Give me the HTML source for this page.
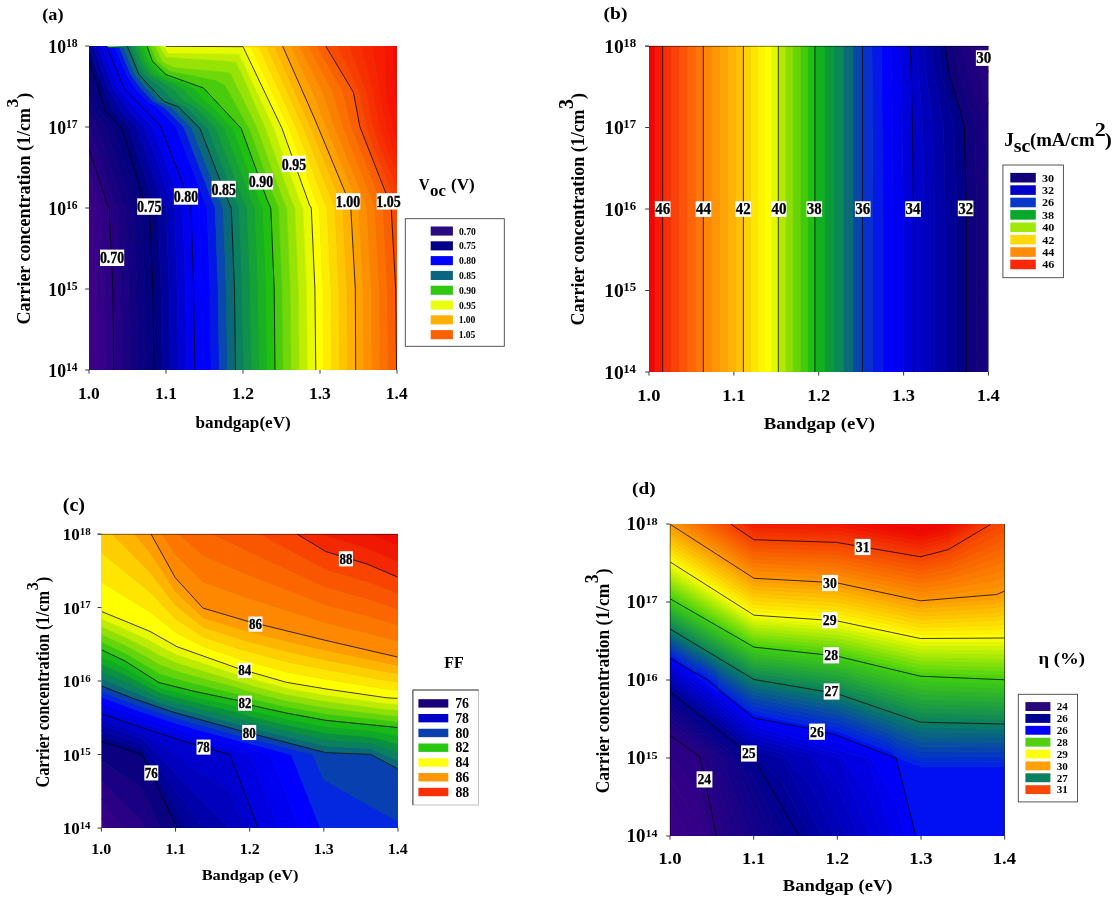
<!DOCTYPE html>
<html lang="en"><head><meta charset="utf-8"><title>Contour plots</title>
<style>html,body{margin:0;padding:0;background:#fff}body{width:1114px;height:898px;overflow:hidden}</style>
</head><body>
<svg width="1114" height="898" viewBox="0 0 1114 898" style="display:block;font-family:'Liberation Serif','Times New Roman',serif;font-weight:bold">
<rect width="1114" height="898" fill="#fff"/>
<clipPath id="clipa"><rect x="89" y="46" width="308" height="324"/></clipPath>
<g clip-path="url(#clipa)">
<rect x="89" y="46" width="308" height="324" fill="#20c010"/>
<path fill="#44008b" stroke="#44008b" stroke-width=".6" d="M89,307L89.7,370 89,370Z"/>
<path fill="#3e0089" stroke="#3e0089" stroke-width=".6" d="M89,198L91.4,205 93.2,208 96.8,289 97.7,370 89.7,370 89,307Z"/>
<path fill="#360087" stroke="#360087" stroke-width=".6" d="M89,174L99.4,205 101.2,208 104.8,289 105.7,370 97.7,370 96.8,289 93.2,208 91.4,205 89,197.7Z"/>
<path fill="#2e0085" stroke="#2e0085" stroke-width=".6" d="M89,149L107.4,205 109.2,208 112.8,289 113.7,370 105.7,370 104.8,289 101.2,208 99.4,205 89,173.3Z"/>
<path fill="#250083" stroke="#250083" stroke-width=".6" d="M89,126L90.3,129 113.4,200 115.4,205 117.3,208 120.8,289 121.8,370 113.7,370 112.8,289 109.2,208 107.4,205 89,149Z"/>
<path fill="#1c0082" stroke="#1c0082" stroke-width=".6" d="M89,113L98.3,129 121.1,200 123.4,205 125.4,208 128.8,289 129.8,370 121.8,370 120.8,289 117.3,208 115.4,205 113.4,200 90.3,129 89,125.9Z"/>
<path fill="#130081" stroke="#130081" stroke-width=".6" d="M89,96L93.6,111 106.2,129 128.7,200 133.4,208 136.9,289 137.9,370 129.8,370 128.8,289 125.4,208 123.4,205 121.1,200 98.3,129 89,112.9Z"/>
<path fill="#0a0080" stroke="#0a0080" stroke-width=".6" d="M89,78L97.2,103 99.3,111 114.1,129 136.4,200 141.5,208 144.9,289 145.9,370 137.9,370 136.9,289 133.4,208 128.7,200 106.2,129 93.6,111 89,95.8Z"/>
<path fill="#040080" stroke="#040080" stroke-width=".6" d="M89,60L102.7,102 105,111 121.4,128 122,129 144,200 149.6,208 152.9,289 154,370 145.9,370 144.9,289 141.5,208 136.4,200 114.1,129 99.3,111 97.2,103 89,77.9Z"/>
<path fill="#000080" stroke="#000080" stroke-width=".6" d="M89,47L103.7,89 110,103 113.2,111 127.7,126 129.9,129 152.9,200 157.9,208 161,289 162.2,370 154,370 152.9,289 149.6,208 144,200 122,129 121.4,128 105,111 102.7,102 89,60Z"/>
<path fill="#00009c" stroke="#00009c" stroke-width=".6" d="M89,46L93.3,46 108.9,89 121.4,111 135,125 137.9,129 161.7,200 166.2,208 169.2,289 170.4,370 162.2,370 161,289 157.9,208 152.9,200 129.9,129 127.7,126 113.2,111 110,103 103.7,89Z"/>
<path fill="#0000b8" stroke="#0000b8" stroke-width=".6" d="M93.3,46L97.7,46 114.1,89 129.6,111 143.2,125 145.3,128 165.3,184 170.6,200 174.4,208 177.3,289 178.5,370 170.4,370 169.2,289 166.2,208 161.7,200 137.9,129 135,125 121.4,111 108.9,89Z"/>
<path fill="#0000d4" stroke="#0000d4" stroke-width=".6" d="M97.7,46L102.1,46 119.3,89 137.8,111 152.3,126 153.7,129 174,184 179.4,200 182.7,208 185.5,289 186.7,370 178.5,370 177.3,289 174.4,208 170.6,200 165.3,184 145.3,128 143.2,125 129.6,111 114.1,89Z"/>
<path fill="#0000f0" stroke="#0000f0" stroke-width=".6" d="M102.1,46L106,46 106.9,47 124.5,89 160.5,126 182.8,184 191,208 193.6,289 194.9,370 186.7,370 185.5,289 182.7,208 179.4,200 174,184 153.3,128 151.5,125 137.8,111 119.3,89Z"/>
<path fill="#0000ff" stroke="#0000ff" stroke-width=".6" d="M106,46L107,46.8 111.1,47 122.3,74 130.1,89 141.7,101 149.4,107 167.9,126 169.4,129 190.5,184 199.1,208 201.8,289 203,370 194.9,370 193.6,289 191,208 182.8,184 160.5,126 124.5,89 106.9,47Z"/>
<path fill="#0000ff" stroke="#0000ff" stroke-width=".6" d="M106.3,46L108,46.9 115.2,47 126.4,74 135.7,89 147.2,101 156.7,107 174.5,125 176.6,128 198.3,184 207.1,208 210,289 211.1,370 203,370 201.8,289 199.1,208 190.5,184 169.4,129 167.9,126 149.4,107 141.7,101 130.1,89 122.3,74 111.1,47 107,46.8Z"/>
<path fill="#0318e5" stroke="#0318e5" stroke-width=".6" d="M106.5,46L108,46.8 119.3,47 130.6,74 141.3,89 152.6,101 164,107 181.8,125 184.3,128 215.2,208 218.1,289 219.3,370 211.1,370 210,289 207.1,208 198.3,184 176.6,128 174.5,125 156.7,107 147.2,101 135.7,89 126.4,74 115.2,47 108,46.9Z"/>
<path fill="#0848b0" stroke="#0848b0" stroke-width=".6" d="M106.7,46L108,46.7 123.5,47 134.7,74 146.8,89 158.1,101 171.3,107 191.9,128 219.8,200 223.2,208 226.3,289 227.4,370 219.3,370 218.1,289 215.2,208 184.3,128 181.8,125 164,107 152.6,101 141.3,89 130.6,74 119.3,47 108,46.8Z"/>
<path fill="#0a6878" stroke="#0a6878" stroke-width=".6" d="M106.9,46L108,46.6 109,46.7 127,46.4 127.6,47 138,72.1 139.5,75 163.7,101 165.5,102 178.6,107 199.6,128 200.2,129 227.7,200 231.3,208 234.5,289 235.5,370 227.4,370 226.3,289 223.2,208 219.8,200 192.5,129 189.2,125 171.3,107 158.1,101 146.8,89 134.7,74 123.5,47 108,46.7Z"/>
<path fill="#0a8060" stroke="#0a8060" stroke-width=".6" d="M107.1,46L109,46.6 131.2,46 137.2,61 144.1,74 145,75 161.9,88 174,101 187.1,107 208.5,129 235.6,200 239.2,208 242.4,289 243.4,370 235.5,370 234.5,289 231.3,208 227.7,200 200.2,129 199.6,128 178.6,107 165.5,102 163.7,101 139.5,75 138,72.1 127.6,47 127,46.4 109,46.7 108,46.6Z"/>
<path fill="#10904c" stroke="#10904c" stroke-width=".6" d="M107.2,46L109,46.5 125.3,46 121,46.5 109,46.6 108,46.5ZM131.2,46L135.1,46 141,61 149.4,74 151,75.3 172.3,88 184.4,101 195.7,107 216.1,128 243.5,200 247.1,208 250.4,289 251.3,370 243.4,370 242.4,289 239.2,208 235.6,200 207.8,128 187.1,107 174,101 161.9,88 145,75 144.1,74 137.2,61Z"/>
<path fill="#15a038" stroke="#15a038" stroke-width=".6" d="M107.3,46L109,46.5 123.4,46 109,46.5ZM135.1,46L139.1,46 144.7,61 154.7,74 157,75.5 182.7,88 194.8,101 204.2,107 224.9,129 251.4,200 255,208 258.3,289 259.2,370 251.3,370 250.4,289 247.1,208 243.5,200 216.1,128 195.7,107 184.4,101 172.3,88 151,75.3 149.4,74 141,61Z"/>
<path fill="#1bb024" stroke="#1bb024" stroke-width=".6" d="M107.4,46L109,46.4 121.5,46 109,46.5ZM139.1,46L143,46 148.5,61 160,74 162,75.2 193.1,88 205.2,101 212.7,107 233.2,129 259.3,200 262.9,208 266.3,289 267.1,370 259.2,370 258.3,289 255,208 251.4,200 224.9,129 204.2,107 194.8,101 182.7,88 157,75.5 154.7,74 144.7,61Z"/>
<path fill="#20c010" stroke="#20c010" stroke-width=".6" d="M107.6,46L109,46.3 119.6,46 109,46.4ZM143,46L147,46 152.4,61 165.6,74 170,76 172,76.4 172.9,77 183,80.3 184,81 186,81.4 203.7,88 241.4,129 267.2,200 270.8,208 274.2,289 275,370 267.1,370 266.3,289 262.9,208 259.3,200 233.2,129 212.7,107 205.2,101 193.1,88 162,75.2 160,74 148.5,61Z"/>
<path fill="#48cc0d" stroke="#48cc0d" stroke-width=".6" d="M107.7,46L109,46.3 117.7,46 109,46.3ZM147,46L150.8,46 157.1,61 164,67 169.7,71 173,71.4 215.1,80 217.7,81 225,85 249.6,129 275.3,200 278.9,208 282.3,289 283.2,370 275,370 274.2,289 270.8,208 267.2,200 241.4,129 203.7,88 186,81.4 184,81 183,80.3 172.9,77 172,76.4 170,76 165.6,74 152.4,61Z"/>
<path fill="#70d70a" stroke="#70d70a" stroke-width=".6" d="M107.8,46L115.8,46 109,46.3ZM150.8,46L155,46 162.5,61 167,64 168,64.1 169,65 170,65.2 172.9,67 227,72 228,72.6 230.5,73 257.3,128 283.4,200 287,208 290.5,289 291.3,370 283.2,370 282.3,289 278.9,208 275.3,200 249.6,129 225,85 217.7,81 215.1,80 173,71.4 169.7,71 164,67 157.1,61Z"/>
<path fill="#98e306" stroke="#98e306" stroke-width=".6" d="M155,46L159.4,46 164,53.9 164.4,54 165.8,56 166,57 228,61 231,61.7 236.1,62 238,65.9 238.2,67 239,67.9 239.2,69 240,70 265.5,128 291.5,200 295.1,208 298.6,289 299.5,370 291.3,370 290.5,289 287,208 283.4,200 257.3,128 230.5,73 228,72.6 227,72 172.9,67 170,65.2 169,65 168,64.1 167,64 162.5,61Z"/>
<path fill="#c0ee03" stroke="#c0ee03" stroke-width=".6" d="M159.4,46L163,46 165.8,49 166,50 167.9,52 168,53 239.1,54 240.2,57 243.6,63 273.7,128 299.6,200 301.5,205 303.2,208 306.8,289 307.6,370 299.5,370 298.6,289 295.1,208 291.5,200 265.5,128 240,70 239.2,69 239,67.9 238.2,67 238,65.9 236.1,62 231,61.7 228,61 166,57 165.8,56 164.4,54 164,53.9Z"/>
<path fill="#e8fa00" stroke="#e8fa00" stroke-width=".6" d="M163,46L243,47 243.1,48 244,49 244.1,50 245,51 245.1,52 246.5,54 281.8,128 309.5,205 311.3,208 314.9,289 315.8,370 307.6,370 306.8,289 303.2,208 301.5,205 299.6,200 273.7,128 243.6,63 240.2,57 239.1,54 168,53 167.9,52 166,50 165.8,49Z"/>
<path fill="#ffff00" stroke="#ffff00" stroke-width=".6" d="M182.9,46L202.9,46 251.1,47 289.1,128 317.5,205 319.2,208 323,289 323.8,370 315.8,370 314.9,289 311.3,208 309.5,205 281.8,128 246.5,54 245.1,52 245,51 244.1,50 244,49 243.1,48 243,47 203,46.7Z"/>
<path fill="#ffec00" stroke="#ffec00" stroke-width=".6" d="M202.9,46L243,46.3 259.1,47 296.9,129 325.6,205 327.1,208 331.1,289 331.8,370 323.8,370 323,289 319.2,208 317.5,205 289.5,129 251.1,47Z"/>
<path fill="#ffd800" stroke="#ffd800" stroke-width=".6" d="M222.8,46L249,46.1 267.1,47 303.8,128 335,208 339.1,289 339.7,370 331.8,370 331.1,289 327.1,208 325.6,205 296.5,128 259.1,47Z"/>
<path fill="#ffc500" stroke="#ffc500" stroke-width=".6" d="M242.7,46L262.7,46 275.1,47 311.1,128 337.4,193 342.9,208 347.2,289 347.7,370 339.7,370 339.1,289 335,208 303.8,128 267.1,47Z"/>
<path fill="#ffb200" stroke="#ffb200" stroke-width=".6" d="M262.7,46L282.4,46 283,46.9 315.6,121 345.4,193 350.8,208 355.3,289 355.7,370 347.7,370 347.2,289 342.9,208 337.4,193 311.1,128 275.1,47Z"/>
<path fill="#fea000" stroke="#fea000" stroke-width=".6" d="M282.4,46L291.2,46 313.3,93 326.4,127 353.5,193 358.9,208 363.4,289 363.9,370 355.7,370 355.3,289 350.8,208 345.4,193 315.6,121Z"/>
<path fill="#fd9000" stroke="#fd9000" stroke-width=".6" d="M291.2,46L299.8,46 323,92 334.8,127 360.7,191 367,208 371.5,289 372.1,370 363.9,370 363.4,289 358.9,208 353.5,193 326.4,127 313.3,93Z"/>
<path fill="#fc8000" stroke="#fc8000" stroke-width=".6" d="M299.8,46L308.5,46 333.1,92 343.2,127 368.8,191 375,208 379.5,289 380.2,370 372.1,370 371.5,289 367,208 360.7,191 334.8,127 323.4,93Z"/>
<path fill="#fb7000" stroke="#fb7000" stroke-width=".6" d="M308.5,46L317.1,46 343.1,92 351.6,127 376.9,191 383.1,208 387.6,289 388.4,370 380.2,370 379.5,289 375,208 368.8,191 343.2,127 333.1,92Z"/>
<path fill="#fa6000" stroke="#fa6000" stroke-width=".6" d="M317.1,46L325.8,46 353.1,92 359.9,127 385,191 391.2,208 395.7,289 396.6,370 388.4,370 387.6,289 383.1,208 376.9,191 351.6,127 343.1,92Z"/>
<path fill="#f84a00" stroke="#f84a00" stroke-width=".6" d="M325.8,46L337.6,46 359.9,92 366.6,127 373.1,145 397,202.9 397,370 396.6,370 395.7,289 391.2,208 385,191 359.9,127 353.1,92Z"/>
<path fill="#f83d00" stroke="#f83d00" stroke-width=".6" d="M337.6,46L349.4,46 366.6,92 373.1,126 379.2,145 397,186.4 397,202.9 373.1,145 366.6,127 359.9,92Z"/>
<path fill="#f83000" stroke="#f83000" stroke-width=".6" d="M349.4,46L361.3,46 373.3,92 374,98 380,127 385.3,145 397,171 397,186.4 379.2,145 373.1,126 366.6,92Z"/>
<path fill="#f82600" stroke="#f82600" stroke-width=".6" d="M361.3,46L373.1,46 380.1,92 380.5,98 386.4,126 391.4,145 397,156.9 397,171 385.3,145 380,127 374,98 373.3,92Z"/>
<path fill="#f81c00" stroke="#f81c00" stroke-width=".6" d="M373.1,46L385,46 387,98 397,142.8 397,156.9 391.4,145 386.4,126 380.5,98 380.1,92Z"/>
<path fill="#f41400" stroke="#f41400" stroke-width=".6" d="M385,46L393.4,46 395.4,98 397,105.3 397,142.8 387,98Z"/>
<path fill="#f00c00" stroke="#f00c00" stroke-width=".6" d="M393.4,46L397,46 397,105.3 395.4,98Z"/>
<g fill="none" stroke="#000" stroke-opacity=".75" stroke-width="1">
<path d="M89,149L107.4,205 109.2,208 112.8,289 113.7,370"/>
<path d="M89,60L103,103 105,111 121.8,128.4 144,200 149.6,208 152.9,289 154,370"/>
<path d="M106.5,46L124.5,89 160.4,125.7 182.8,184 191,208 193.6,289 194.9,370"/>
<path d="M127.2,46L139,74.5 164,101.5 178.4,106.8 200,128.4 227.7,200 231.3,208 234.5,289 235.5,370"/>
<path d="M147,46L152.3,61 165.8,74.5 203.5,88 241.2,128.4 267.2,200 270.8,208 274.2,289 275,370"/>
<path d="M166,46.3L243,46.7 282,128.4 309.5,205 311.3,208 314.9,289 315.8,370"/>
<path d="M282.6,46L314.9,119.4 345.4,193 350.8,208 355.3,289 355.7,370"/>
<path d="M325.7,46L353.5,92.5 359.8,126.6 385,191 391.2,208 395.7,289 396.6,370"/>
</g>
</g>
<path d="M89,370v3.6M89,46h-3.8M166,370v3.6M89,127h-3.8M243,370v3.6M89,208h-3.8M320,370v3.6M89,289h-3.8M397,370v3.6M89,370h-3.8" stroke="#222" stroke-width=".9" fill="none"/>
<text x="42.17" y="20.4" font-size="17.7" textLength="21.38" lengthAdjust="spacingAndGlyphs">(a)</text>
<text x="48.28" y="52.5" font-size="19.55" textLength="17.73" lengthAdjust="spacingAndGlyphs">10</text>
<text x="65.97" y="46.5" font-size="11.82" textLength="11.64" lengthAdjust="spacingAndGlyphs">18</text>
<text x="48.28" y="133.5" font-size="19.55" textLength="17.73" lengthAdjust="spacingAndGlyphs">10</text>
<text x="65.98" y="127.5" font-size="11.82" textLength="11.51" lengthAdjust="spacingAndGlyphs">17</text>
<text x="48.28" y="214.5" font-size="19.55" textLength="17.73" lengthAdjust="spacingAndGlyphs">10</text>
<text x="65.97" y="208.5" font-size="11.82" textLength="11.57" lengthAdjust="spacingAndGlyphs">16</text>
<text x="48.28" y="295.5" font-size="19.55" textLength="17.73" lengthAdjust="spacingAndGlyphs">10</text>
<text x="65.97" y="289.5" font-size="11.82" textLength="11.64" lengthAdjust="spacingAndGlyphs">15</text>
<text x="48.28" y="376.5" font-size="19.55" textLength="17.73" lengthAdjust="spacingAndGlyphs">10</text>
<text x="65.98" y="370.5" font-size="11.82" textLength="11.44" lengthAdjust="spacingAndGlyphs">14</text>
<text x="78.03" y="398.7" font-size="16.8" textLength="21.84" lengthAdjust="spacingAndGlyphs">1.0</text>
<text x="155.12" y="398.7" font-size="16.8" textLength="21.84" lengthAdjust="spacingAndGlyphs">1.1</text>
<text x="232.07" y="398.7" font-size="16.8" textLength="21.84" lengthAdjust="spacingAndGlyphs">1.2</text>
<text x="308.99" y="398.7" font-size="16.8" textLength="21.84" lengthAdjust="spacingAndGlyphs">1.3</text>
<text x="385.86" y="398.7" font-size="16.8" textLength="21.84" lengthAdjust="spacingAndGlyphs">1.4</text>
<text x="195.54" y="427.5" font-size="16.2" textLength="95.27" lengthAdjust="spacingAndGlyphs">bandgap(eV)</text>
<g transform="translate(29.8 323.7) rotate(-90)">
<text x="-0.9" y="0" font-size="17.8" textLength="216.59" lengthAdjust="spacingAndGlyphs">Carrier concentration (1/cm</text>
<text x="216.23" y="-11.4" font-size="17.3" textLength="8.75" lengthAdjust="spacingAndGlyphs">3</text>
<text x="224.98" y="0" font-size="17.8" textLength="5.99" lengthAdjust="spacingAndGlyphs">)</text>
</g>
<clipPath id="clipb"><rect x="649" y="46" width="339.5" height="326"/></clipPath>
<g clip-path="url(#clipb)">
<rect x="649" y="46" width="339.5" height="326" fill="#44ca0c"/>
<path fill="#2c0080" stroke="#2c0080" stroke-width=".6" d="M979.8,46L988.5,46 988.5,72.5Z"/>
<path fill="#25007f" stroke="#25007f" stroke-width=".6" d="M971.1,46L979.8,46 988.5,72.5 988.5,104.4 980,77Z"/>
<path fill="#1e007e" stroke="#1e007e" stroke-width=".6" d="M962.5,46L971.1,46 980,77 988.5,104.4 988.5,372 987.4,372 986.9,209 985.4,127 970,77Z"/>
<path fill="#17007d" stroke="#17007d" stroke-width=".6" d="M953.8,46L962.5,46 970,77 985.4,127 986.9,209 987.4,372 976.9,372 976.7,209 974.8,127 971.6,115 960,77Z"/>
<path fill="#10007c" stroke="#10007c" stroke-width=".6" d="M945.2,46L953.8,46 960,77 971.6,115 974.8,127 976.7,209 976.9,372 966.4,372 966.4,209 964.3,127 961.4,115 950,77Z"/>
<path fill="#000088" stroke="#000088" stroke-width=".6" d="M938.2,46L945.2,46 950,77 961.4,115 964.3,127 966.4,209 966.4,372 955.8,372 955.8,209 953.9,127 951.6,115 942.2,77Z"/>
<path fill="#000098" stroke="#000098" stroke-width=".6" d="M931.3,46L938.2,46 942.2,77 951.6,115 953.9,127 955.8,209 955.8,372 945.2,372 945.2,209 943.6,127 941.7,115 934.5,77Z"/>
<path fill="#0000a8" stroke="#0000a8" stroke-width=".6" d="M924.3,46L931.3,46 934.5,77 941.7,115 943.6,127 945.2,209 945.2,372 934.6,372 934.6,209 933.2,127 926.7,77Z"/>
<path fill="#0000b8" stroke="#0000b8" stroke-width=".6" d="M917.4,46L924.3,46 926.7,77 933.2,127 934.6,209 934.6,372 924,372 924,209 922.9,128 919,77Z"/>
<path fill="#0000c8" stroke="#0000c8" stroke-width=".6" d="M910.5,46L917.4,46 919,77 922.8,127 924,209 924,372 913.4,372 913.4,209 912.5,128Z"/>
<path fill="#0000d8" stroke="#0000d8" stroke-width=".6" d="M900.9,46L910.5,46 912.5,128 913.4,209 913.4,372 903.2,372 903.2,209 902.5,128Z"/>
<path fill="#0000f0" stroke="#0000f0" stroke-width=".6" d="M891.3,46L900.9,46 902.5,128 903.2,209 903.2,372 893,372 893,209 892.5,128Z"/>
<path fill="#0000ff" stroke="#0000ff" stroke-width=".6" d="M881.6,46L891.3,46 892.5,128 893,209 893,372 882.8,372 882.8,209Z"/>
<path fill="#0418e8" stroke="#0418e8" stroke-width=".6" d="M872,46L881.6,46 882.8,209 882.8,372 872.6,372 872.6,209Z"/>
<path fill="#0830d0" stroke="#0830d0" stroke-width=".6" d="M862.4,46L872,46 872.6,209 872.6,372 862.4,372Z"/>
<path fill="#0848a8" stroke="#0848a8" stroke-width=".6" d="M852.9,46L862.4,46 862.4,372 852.9,372Z"/>
<path fill="#0a6a78" stroke="#0a6a78" stroke-width=".6" d="M843.4,46L852.9,46 852.9,372 843.4,372Z"/>
<path fill="#0a8858" stroke="#0a8858" stroke-width=".6" d="M833.9,46L843.4,46 843.4,372 833.9,372Z"/>
<path fill="#0a9a38" stroke="#0a9a38" stroke-width=".6" d="M824.4,46L833.9,46 833.9,372 824.4,372Z"/>
<path fill="#10b020" stroke="#10b020" stroke-width=".6" d="M814.9,46L824.4,46 824.4,372 814.9,372Z"/>
<path fill="#20c010" stroke="#20c010" stroke-width=".6" d="M807.6,46L814.9,46 814.9,372 807.6,372Z"/>
<path fill="#44ca0c" stroke="#44ca0c" stroke-width=".6" d="M800.3,46L807.6,46 807.6,372 800.3,372Z"/>
<path fill="#68d408" stroke="#68d408" stroke-width=".6" d="M792.9,46L800.3,46 800.3,372 792.9,372Z"/>
<path fill="#8cde04" stroke="#8cde04" stroke-width=".6" d="M785.6,46L792.9,46 792.9,372 785.6,372Z"/>
<path fill="#b0e800" stroke="#b0e800" stroke-width=".6" d="M778.3,46L785.6,46 785.6,372 778.3,372Z"/>
<path fill="#e0f800" stroke="#e0f800" stroke-width=".6" d="M771.3,46L778.3,46 778.3,372 771.3,372Z"/>
<path fill="#ffff00" stroke="#ffff00" stroke-width=".6" d="M764.3,46L771.3,46 771.3,372 764.3,372Z"/>
<path fill="#fff500" stroke="#fff500" stroke-width=".6" d="M757.4,46L764.3,46 764.3,372 757.4,372Z"/>
<path fill="#ffe602" stroke="#ffe602" stroke-width=".6" d="M750.4,46L757.4,46 757.4,372 750.4,372Z"/>
<path fill="#ffd206" stroke="#ffd206" stroke-width=".6" d="M743.4,46L750.4,46 750.4,372 743.4,372Z"/>
<path fill="#ffc108" stroke="#ffc108" stroke-width=".6" d="M735.4,46L743.4,46 743.4,372 735.4,372Z"/>
<path fill="#ffb208" stroke="#ffb208" stroke-width=".6" d="M727.4,46L735.4,46 735.4,372 727.4,372Z"/>
<path fill="#ffa408" stroke="#ffa408" stroke-width=".6" d="M719.3,46L727.4,46 727.4,372 719.3,372Z"/>
<path fill="#ff9608" stroke="#ff9608" stroke-width=".6" d="M711.3,46L719.3,46 719.3,372 711.3,372Z"/>
<path fill="#ff8708" stroke="#ff8708" stroke-width=".6" d="M703.3,46L711.3,46 711.3,372 703.3,372Z"/>
<path fill="#fe7708" stroke="#fe7708" stroke-width=".6" d="M695.2,46L703.3,46 703.3,372 695.2,372Z"/>
<path fill="#fd6508" stroke="#fd6508" stroke-width=".6" d="M687,46L695.2,46 695.2,372 687,372Z"/>
<path fill="#fb5408" stroke="#fb5408" stroke-width=".6" d="M678.9,46L687,46 687,372 678.9,372Z"/>
<path fill="#fa4208" stroke="#fa4208" stroke-width=".6" d="M670.7,46L678.9,46 678.9,372 670.7,372Z"/>
<path fill="#f83008" stroke="#f83008" stroke-width=".6" d="M662.6,46L670.7,46 670.7,372 662.6,372Z"/>
<path fill="#f81808" stroke="#f81808" stroke-width=".6" d="M654.5,46L662.6,46 662.6,372 654.5,372Z"/>
<path fill="#f00404" stroke="#f00404" stroke-width=".6" d="M649,46L654.5,46 654.5,372 649,372Z"/>
<g fill="none" stroke="#000" stroke-opacity=".75" stroke-width="1">
<path d="M945.1,46L949.9,76.8 961.5,115.2 964.3,126.8 966.4,209 966.4,372"/>
<path d="M910.5,46L912.5,128 913.4,209 913.4,372"/>
<path d="M862.4,46L862.4,372"/>
<path d="M814.9,46L814.9,372"/>
<path d="M778.3,46L778.3,372"/>
<path d="M743.4,46L743.4,372"/>
<path d="M703.3,46L703.3,372"/>
<path d="M662.6,46L662.6,372"/>
</g>
</g>
<path d="M645,46.3H988.5" fill="none" stroke="#000" stroke-opacity=".6" stroke-width=".9"/>
<path d="M649,372v3.6M649,46h-3.8M733.88,372v3.6M649,127.5h-3.8M818.75,372v3.6M649,209h-3.8M903.62,372v3.6M649,290.5h-3.8M988.5,372v3.6M649,372h-3.8" stroke="#222" stroke-width=".9" fill="none"/>
<text x="603.52" y="18.8" font-size="17.7" textLength="23.91" lengthAdjust="spacingAndGlyphs">(b)</text>
<text x="604.24" y="52.6" font-size="19.55">10</text>
<text x="623.27" y="46.7" font-size="11.82" textLength="12.88" lengthAdjust="spacingAndGlyphs">18</text>
<text x="604.24" y="134.1" font-size="19.55">10</text>
<text x="623.28" y="128.2" font-size="11.82" textLength="12.74" lengthAdjust="spacingAndGlyphs">17</text>
<text x="604.24" y="215.6" font-size="19.55">10</text>
<text x="623.28" y="209.7" font-size="11.82" textLength="12.81" lengthAdjust="spacingAndGlyphs">16</text>
<text x="604.24" y="297.1" font-size="19.55">10</text>
<text x="623.27" y="291.2" font-size="11.82" textLength="12.88" lengthAdjust="spacingAndGlyphs">15</text>
<text x="604.24" y="378.6" font-size="19.55">10</text>
<text x="623.29" y="372.7" font-size="11.82" textLength="12.67" lengthAdjust="spacingAndGlyphs">14</text>
<text x="637.38" y="400.5" font-size="16.8" textLength="23.1" lengthAdjust="spacingAndGlyphs">1.0</text>
<text x="722.35" y="400.5" font-size="16.8" textLength="23.1" lengthAdjust="spacingAndGlyphs">1.1</text>
<text x="807.18" y="400.5" font-size="16.8" textLength="23.1" lengthAdjust="spacingAndGlyphs">1.2</text>
<text x="891.96" y="400.5" font-size="16.8" textLength="23.1" lengthAdjust="spacingAndGlyphs">1.3</text>
<text x="976.7" y="400.5" font-size="16.8" textLength="23.1" lengthAdjust="spacingAndGlyphs">1.4</text>
<text x="763.82" y="428.8" font-size="17" textLength="111.28" lengthAdjust="spacingAndGlyphs">Bandgap (eV)</text>
<g transform="translate(583.8 324.6) rotate(-90)">
<text x="-0.9" y="0" font-size="18.6" textLength="216.06" lengthAdjust="spacingAndGlyphs">Carrier concentration (1/cm</text>
<text x="215.7" y="-11" font-size="20.5" textLength="9.89" lengthAdjust="spacingAndGlyphs">3</text>
<text x="225.59" y="0" font-size="18.6" textLength="5.98" lengthAdjust="spacingAndGlyphs">)</text>
</g>
<clipPath id="clipc"><rect x="101.4" y="534" width="296.6" height="294"/></clipPath>
<g clip-path="url(#clipc)">
<rect x="101.4" y="534" width="296.6" height="294" fill="#18b818"/>
<path fill="#3f0089" stroke="#3f0089" stroke-width=".6" d="M101.4,819L101.4,818.1 107.1,828 101.4,828Z"/>
<path fill="#340086" stroke="#340086" stroke-width=".6" d="M101.4,799L122.3,828 107.1,828 101.4,818.1Z"/>
<path fill="#2a0084" stroke="#2a0084" stroke-width=".6" d="M101.4,780L141.3,821 145,828 122.3,828 101.4,799Z"/>
<path fill="#1a0082" stroke="#1a0082" stroke-width=".6" d="M101.4,761L141.3,787.6 142.3,788.7 161,828 145,828 141.3,821 101.4,779.9Z"/>
<path fill="#0a0080" stroke="#0a0080" stroke-width=".6" d="M101.4,742L102.5,742 113.4,745.7 115.2,746 116.4,746.7 118.4,747 119.4,747.6 121.5,748 132.4,751.8 134.4,752 135.4,752.7 140.4,754 142.3,755.5 176.9,828 161,828 142.3,788.7 141.3,787.6 101.4,760.7Z"/>
<path fill="#000088" stroke="#000088" stroke-width=".6" d="M101.4,737L101.4,736 141.3,748.8 142.3,749.6 187.2,828 176.9,828 142.3,755.5 140.4,754 138.4,753.7 137.4,753 135.4,752.7 134.4,752 132.4,751.8 121.5,748 119.4,747.6 118.4,747 116.4,746.7 115.2,746 113.4,745.7 101.4,741.8Z"/>
<path fill="#00009a" stroke="#00009a" stroke-width=".6" d="M101.4,731L101.4,730.5 141.3,743.5 142.3,744.2 202.7,828 187.2,828 142.3,749.6 141.3,748.8 101.4,736Z"/>
<path fill="#0000ab" stroke="#0000ab" stroke-width=".6" d="M101.4,725L142.3,738.7 196.3,794.6 229.5,828 202.7,828 142.3,744.2 141.3,743.5 101.4,730.5Z"/>
<path fill="#0000bd" stroke="#0000bd" stroke-width=".6" d="M101.4,720L101.4,719.4 142.3,733.2 196.3,769.9 229.2,790.9 230.2,792 244.5,828 229.5,828 196.3,794.6 142.3,738.7 101.4,724.9Z"/>
<path fill="#0000ce" stroke="#0000ce" stroke-width=".6" d="M101.4,714L156.3,732.6 187.3,742.7 189.1,743 190.3,743.7 192.3,744 193.3,744.7 195.3,745 196.3,745.6 202.4,747 204.3,747.8 206.3,748 207.3,748.6 213.4,750 215.2,750.8 217.3,751 218.2,751.6 220.8,752 226.2,753.8 228.3,754 230.2,755 230.6,757 233.2,763 258.1,828 244.5,828 230.2,792 229.2,790.9 196.3,769.9 142.3,733.2 101.4,719.4Z"/>
<path fill="#0000e0" stroke="#0000e0" stroke-width=".6" d="M101.4,709L101.4,708.2 152.3,725.9 196.3,739.9 235.2,750.7 237.3,751 238.2,751.6 241.2,752 242.2,752.7 244.8,753 246.2,753.8 248.5,754 250.2,754.8 254.2,764 278.8,828 258.1,828 233.2,763 230.6,757 230.2,755 228.3,754 226.2,753.8 220.8,752 218.2,751.6 217.3,751 215.2,750.8 213.4,750 207.3,748.6 206.3,748 204.3,747.8 202.4,747 196.3,745.6 192.3,744 190.3,743.7 189.1,743 187.3,742.7 153.3,731.6 101.4,713.8Z"/>
<path fill="#0000f0" stroke="#0000f0" stroke-width=".6" d="M101.4,703L101.4,702.7 134.4,714.5 173.3,727.6 197.3,734.8 253.9,750 259.2,751.7 261.4,752 263.2,752.8 265.3,753 267.2,753.9 269.2,754 271.2,755 271.6,757 273.2,760 273.6,762 299.5,828 278.8,828 254.2,764 250.2,754.8 248.5,754 246.2,753.8 244.8,753 242.2,752.7 241.2,752 238.2,751.6 237.3,751 235.2,750.7 196.3,739.9 173.3,732.7 133.4,719.4 101.4,708.2Z"/>
<path fill="#0000ff" stroke="#0000ff" stroke-width=".6" d="M101.4,698L101.4,697.1 134.4,709.3 174.3,722.7 197.3,729.5 229.2,738.2 270.8,749 280.2,751.8 282.2,752 283.2,752.6 286.2,753 287.1,753.7 290.1,754.2 292.2,756 293.4,760 294.1,761 320.3,828 299.5,828 273.6,762 273.2,760 271.6,757 271.2,755 269.2,754 267.2,753.9 265.3,753 263.2,752.8 261.4,752 259.2,751.7 253.9,750 196.3,734.6 173.3,727.6 152.3,720.7 101.4,702.7Z"/>
<path fill="#0428e0" stroke="#0428e0" stroke-width=".6" d="M101.4,692L101.4,691.5 134.4,704.1 173.3,717.3 230.2,733.2 291.9,749 301.1,751.8 303.3,752 305.1,752.8 307.2,753 309.1,753.9 311.2,754 313.1,755 313.3,756 314.1,757 315.5,761 324.1,779.8 398,821.3 398,828 320.3,828 294.1,761 293.4,760 292.2,756 291.1,754.8 289.7,754 287.1,753.7 286.2,753 283.2,752.6 282.2,752 280.2,751.8 278.3,751 197.3,729.5 173.3,722.5 134.4,709.3 101.4,697.1Z"/>
<path fill="#0840b0" stroke="#0840b0" stroke-width=".6" d="M101.4,686L134.9,699 173.3,712.2 241.7,731 310.1,748.5 325.1,752.8 335.3,753 344.1,753.8 360.2,754 371.2,755 378,758.8 379.1,759 380,759.8 381,760 382,760.9 383,761 384,761.9 393,766.7 396,768 397,768.8 398,769 398,821.3 324.1,779.8 315.5,761 314.1,757 313.3,756 313.1,755 311.2,754 309.1,753.9 307.2,753 305.1,752.8 303.3,752 301.1,751.8 291.9,749 230.2,733.2 173.3,717.3 134.4,704.1 101.4,691.5Z"/>
<path fill="#0a6878" stroke="#0a6878" stroke-width=".6" d="M101.4,679L101.4,678.7 159.3,702.4 173.3,707 254.2,728.6 325.1,746 371,748.7 398,760.7 398,769 395,767.8 394.1,767 393,766.7 384,761.9 383,761 382,760.9 381,760 380,759.8 379.1,759 378,758.8 377.1,758 376,757.8 371,754.9 360.2,754 344.1,753.8 335.3,753 325.1,752.8 310.1,748.5 241.7,731 173.3,712.2 134.9,699 101.4,686Z"/>
<path fill="#0a8060" stroke="#0a8060" stroke-width=".6" d="M101.4,672L101.4,671.5 124.4,681.2 159.3,697.5 173.3,701.8 194.3,707.3 238.2,718.3 254.2,722.9 325.1,739.5 371,742.7 398,752.4 398,760.7 371,748.7 325.1,746 254.2,728.6 173.3,707 158.3,702.1 101.4,678.7Z"/>
<path fill="#0a9040" stroke="#0a9040" stroke-width=".6" d="M101.4,665L101.4,664.2 124.4,674.4 159.3,692.6 195.3,702.2 238.2,712.4 254.2,717.3 286.2,724.8 325.1,733.1 371,736.8 398,744.1 398,752.4 371,742.7 325.1,739.5 254.2,722.9 238.2,718.3 173.3,701.8 158.3,697.1 125.4,681.7 101.4,671.5Z"/>
<path fill="#10a828" stroke="#10a828" stroke-width=".6" d="M101.4,657L125.4,668.1 159.3,687.6 195.3,696.9 238.2,706.5 254.2,711.6 286.2,718.9 326.1,726.8 370,730.7 398,735.8 398,744.1 371,736.8 326.1,733.3 286.2,724.8 254.2,717.3 238.2,712.4 195.3,702.2 159.3,692.6 125.4,674.9 101.4,664.2Z"/>
<path fill="#18b818" stroke="#18b818" stroke-width=".6" d="M101.4,650L101.4,649.7 125.4,661.2 158.2,682 160.8,683 197.3,692 238.2,700.6 254.2,706 286.2,713 326.1,720.3 398,727.6 398,735.8 370,730.7 326.1,726.8 286.2,718.9 254.2,711.6 238.2,706.5 195.3,696.9 159.3,687.6 125.4,668.1 101.4,657Z"/>
<path fill="#38c810" stroke="#38c810" stroke-width=".6" d="M101.4,643L101.4,642.1 125.4,653.2 159.3,673.5 177.3,679.1 195.3,683.9 238.2,694.2 254.2,699.4 286.2,706.8 326.1,714.1 398,721.7 398,727.6 326.1,720.3 286.2,713 254.2,706 238.2,700.6 197.3,692 160.8,683 158.2,682 125.4,661.2 101.4,649.7Z"/>
<path fill="#64d40c" stroke="#64d40c" stroke-width=".6" d="M101.4,635L101.4,634.4 125.4,645.3 149.3,658.3 159.3,664.3 177.3,671 195.3,676.2 237.2,687.4 254.2,692.8 286.2,700.7 326.1,707.8 386,714.9 398,715.9 398,721.7 326.1,714.1 286.2,706.8 254.2,699.4 238.2,694.2 195.3,683.9 177.3,679.1 159.3,673.5 125.4,653.2 101.4,642.1Z"/>
<path fill="#90e008" stroke="#90e008" stroke-width=".6" d="M101.4,627L125.4,637.3 149.3,649.3 159.3,655.1 177.3,662.9 253.2,685.9 286.2,694.5 325.1,701.4 386,709.2 398,710.1 398,715.9 386,714.9 326.1,707.8 286.2,700.7 254.2,692.8 237.2,687.4 195.3,676.2 177.3,671 159.3,664.3 149.3,658.3 125.4,645.3 101.4,634.4Z"/>
<path fill="#bcec04" stroke="#bcec04" stroke-width=".6" d="M101.4,620L101.4,619.1 125.4,629.3 149.3,640.2 159.3,645.9 177.3,654.9 238.2,674.9 254.2,679.6 287.1,688.6 326.1,695.2 386,703.4 398,704.3 398,710.1 386,709.2 326.1,701.5 286.2,694.5 254.2,686.2 195.3,668.5 177.3,662.9 159.3,655.1 149.3,649.3 125.4,637.3 101.4,626.8Z"/>
<path fill="#e8f800" stroke="#e8f800" stroke-width=".6" d="M101.4,612L101.4,611.2 150.3,631.4 178,647 240.1,669 285.3,682 290.6,683 326.5,689 381.3,697 387,697.7 398,698.3 398,704.3 386,703.4 326.1,695.2 287.1,688.6 254.2,679.6 238.2,674.9 176.3,654.4 159.3,645.9 149.3,640.2 125.4,629.3 101.4,619.1Z"/>
<path fill="#ffff00" stroke="#ffff00" stroke-width=".6" d="M101.4,582L150.3,611.9 176.3,632.8 203.3,646.5 238.2,658.5 286.2,672 326.1,679.3 385.8,689 398,690.2 398,698.3 387,697.7 381.3,697 326.5,689 285.3,682 237.2,668.1 178,647 150.3,631.4 101.4,611.2Z"/>
<path fill="#ffe600" stroke="#ffe600" stroke-width=".6" d="M101.4,553L101.4,552.5 150.3,592.2 175.3,618.5 203.3,636.9 238.2,648.5 286.2,661.7 326.1,669.6 386,680.4 398,681.9 398,690.2 385.8,689 326.1,679.3 286.2,672 238.2,658.5 202.3,646 176.3,632.8 150.3,611.9 101.4,582Z"/>
<path fill="#ffce00" stroke="#ffce00" stroke-width=".6" d="M101.4,534L112.2,534 150.3,572.5 175.3,604.9 203.3,627.3 248.2,641.4 286.2,651.3 326.1,659.9 386,671.7 398,673.6 398,681.9 386,680.4 326.1,669.6 286.2,661.7 238.2,648.5 203.3,636.9 175.3,618.5 150.3,592.2 101.4,552.5Z"/>
<path fill="#ffb500" stroke="#ffb500" stroke-width=".6" d="M112.2,534L134.8,534 151.3,554.1 175.3,591.3 203.3,617.8 248.2,631.4 286.2,641 326.1,650.2 398,665.4 398,673.6 386,671.7 326.1,659.9 286.2,651.3 248.2,641.4 203.3,627.3 175.3,604.9 150.3,572.5Z"/>
<path fill="#ff9c00" stroke="#ff9c00" stroke-width=".6" d="M134.8,534L150.9,534 175.3,577.6 203.3,608.1 250.5,622 324.1,640 398,657.1 398,665.4 326.1,650.2 286.2,641 248.2,631.4 203.3,617.8 175.3,591.3 151.3,554.1Z"/>
<path fill="#fe8800" stroke="#fe8800" stroke-width=".6" d="M150.9,534L162.4,534 175.3,554.1 203.3,581.9 249.2,598.3 325.1,622.4 367,632.8 398,641.1 398,657.1 324.1,640 250.5,622 203.3,608.1 175.3,577.6Z"/>
<path fill="#fd7700" stroke="#fd7700" stroke-width=".6" d="M162.4,534L179.1,534 203.3,555.6 249.2,575 325.1,604.6 367,615.6 398,625.2 398,641.1 367,632.8 325.1,622.4 249.2,598.3 203.3,581.9 175.3,554.1Z"/>
<path fill="#fb6600" stroke="#fb6600" stroke-width=".6" d="M179.1,534L212.8,534 249.2,551.6 325.1,586.8 367,598.4 398,609.2 398,625.2 367,615.6 326.1,604.9 248.2,574.6 203.3,555.6Z"/>
<path fill="#fa5500" stroke="#fa5500" stroke-width=".6" d="M212.8,534L260,534 326.1,569.4 367,581.2 398,593.2 398,609.2 367,598.4 325.1,586.8 249.2,551.6Z"/>
<path fill="#f84400" stroke="#f84400" stroke-width=".6" d="M260,534L297,534 326.1,551.6 367,564 398,577.2 398,593.2 367,581.2 326.1,569.4Z"/>
<path fill="#f42800" stroke="#f42800" stroke-width=".6" d="M297,534L323.2,534 326.1,535.6 367,548 398,561.2 398,577.2 367,564 326.1,551.6Z"/>
<path fill="#f01800" stroke="#f01800" stroke-width=".6" d="M323.2,534L371.7,534 398,545.2 398,561.2 367,548 326.1,535.6Z"/>
<path fill="#f00c00" stroke="#f00c00" stroke-width=".6" d="M371.7,534L398,534 398,545.2Z"/>
<g fill="none" stroke="#000" stroke-opacity=".75" stroke-width="1">
<path d="M102,741.8L142,754.4 177,828"/>
<path d="M102,714L151.9,731 196.7,745.4 230,754.4 258,828"/>
<path d="M102,686.2L134,698.7 173.4,712.2 241.6,731 255.7,734.6 325.7,752.6 370.6,754.4 397.5,768.7"/>
<path d="M102,650L125,661 159,682.6 195,691.5 238,700.5 253.9,705.9 286.2,713 325.7,720.3 361.6,723.9 397.5,727.5"/>
<path d="M102,611.7L150,631.4 177,646.7 238.3,668.5 286.3,682.3 325.7,688.9 386.7,697.8 397.5,698.4"/>
<path d="M102,465L151,534 175.2,577.6 203,608.1 248.7,621.6 325.7,640.4 397.5,657"/>
<path d="M297,534L325.7,551.5 367,564 397.5,577"/>
</g>
</g>
<path d="M97.4,534.3H398" fill="none" stroke="#000" stroke-opacity=".6" stroke-width=".9"/>
<path d="M101.4,828v3.6M101.4,534h-3.8M175.55,828v3.6M101.4,607.5h-3.8M249.7,828v3.6M101.4,681h-3.8M323.85,828v3.6M101.4,754.5h-3.8M398,828v3.6M101.4,828h-3.8" stroke="#222" stroke-width=".9" fill="none"/>
<text x="62.69" y="510.6" font-size="19.8" textLength="22.42" lengthAdjust="spacingAndGlyphs">(c)</text>
<text x="62.84" y="540.2" font-size="17.27" textLength="17.05" lengthAdjust="spacingAndGlyphs">10</text>
<text x="79.72" y="534.7" font-size="10" textLength="10.96" lengthAdjust="spacingAndGlyphs">18</text>
<text x="62.84" y="613.7" font-size="17.27" textLength="17.05" lengthAdjust="spacingAndGlyphs">10</text>
<text x="79.73" y="608.2" font-size="10" textLength="10.84" lengthAdjust="spacingAndGlyphs">17</text>
<text x="62.84" y="687.2" font-size="17.27" textLength="17.05" lengthAdjust="spacingAndGlyphs">10</text>
<text x="79.73" y="681.7" font-size="10" textLength="10.9" lengthAdjust="spacingAndGlyphs">16</text>
<text x="62.84" y="760.7" font-size="17.27" textLength="17.05" lengthAdjust="spacingAndGlyphs">10</text>
<text x="79.72" y="755.2" font-size="10" textLength="10.96" lengthAdjust="spacingAndGlyphs">15</text>
<text x="62.84" y="834.2" font-size="17.27" textLength="17.05" lengthAdjust="spacingAndGlyphs">10</text>
<text x="79.74" y="828.7" font-size="10" textLength="10.78" lengthAdjust="spacingAndGlyphs">14</text>
<text x="91.38" y="854.4" font-size="15.3" textLength="20" lengthAdjust="spacingAndGlyphs">1.0</text>
<text x="165.61" y="854.4" font-size="15.3" textLength="20" lengthAdjust="spacingAndGlyphs">1.1</text>
<text x="239.72" y="854.4" font-size="15.3" textLength="20" lengthAdjust="spacingAndGlyphs">1.2</text>
<text x="313.79" y="854.4" font-size="15.3" textLength="20" lengthAdjust="spacingAndGlyphs">1.3</text>
<text x="387.82" y="854.4" font-size="15.3" textLength="20" lengthAdjust="spacingAndGlyphs">1.4</text>
<text x="201.65" y="879.8" font-size="15.1" textLength="96.94" lengthAdjust="spacingAndGlyphs">Bandgap (eV)</text>
<g transform="translate(48.7 786.8) rotate(-90)">
<text x="-0.82" y="0" font-size="18" textLength="196.79" lengthAdjust="spacingAndGlyphs">Carrier concentration (1/cm</text>
<text x="196.46" y="-10.4" font-size="17.6" textLength="8" lengthAdjust="spacingAndGlyphs">3</text>
<text x="204.46" y="0" font-size="18" textLength="5.45" lengthAdjust="spacingAndGlyphs">)</text>
</g>
<clipPath id="clipd"><rect x="670" y="524" width="334.70000000000005" height="312"/></clipPath>
<g clip-path="url(#clipd)">
<rect x="670" y="524" width="334.70000000000005" height="312" fill="#33bc24"/>
<path fill="#3e0089" stroke="#3e0089" stroke-width=".6" d="M670,822L675.9,836 670,836Z"/>
<path fill="#390088" stroke="#390088" stroke-width=".6" d="M670,801L670,800.2 688.1,836 675.9,836 670,821.9Z"/>
<path fill="#350087" stroke="#350087" stroke-width=".6" d="M670,779L700,825.3 702.3,836 688.1,836 670,800.2Z"/>
<path fill="#310086" stroke="#310086" stroke-width=".6" d="M670,757L700,791.2 709.3,836 702.3,836 700,825.3 670,778.6Z"/>
<path fill="#2c0085" stroke="#2c0085" stroke-width=".6" d="M670,736L670,735.7 670.7,736 674,738.6 675,739 677,740.8 685,746.7 686,747 688,748.8 696,754.7 697,755 700,757.5 716.3,836 709.3,836 700,791.2 670,757Z"/>
<path fill="#280085" stroke="#280085" stroke-width=".6" d="M670,731L700,753 711,783.8 723.3,836 716.3,836 700,757.5 697,755 696,754.7 688,748.8 686,747 685,746.7 677,740.8 675,739 670,735.7Z"/>
<path fill="#240086" stroke="#240086" stroke-width=".6" d="M670,727L670,726.6 700,748.8 711,758 711.2,760 712.9,765 732.8,836 723.3,836 711,783.8 700,752.9 670,731Z"/>
<path fill="#1f0087" stroke="#1f0087" stroke-width=".6" d="M670,723L670,722.3 700,744.6 711,753.5 722,777.7 740.2,836 732.8,836 712.9,765 711.2,760 711,758 700,748.8 670,726.6Z"/>
<path fill="#1b0088" stroke="#1b0088" stroke-width=".6" d="M670,718L700,740.4 721,757.2 722,758.8 725,767 749.3,836 740.2,836 722,777.7 711,753.5 700,744.6 670,722.3Z"/>
<path fill="#170089" stroke="#170089" stroke-width=".6" d="M670,714L670,713.6 700,736.3 722,753.9 732.9,774.1 756.9,836 749.3,836 725,767 722,758.8 721,757.2 700,740.4 670,717.9Z"/>
<path fill="#13008b" stroke="#13008b" stroke-width=".6" d="M670,710L670,709.2 700,732.1 731.9,757.5 733,759 765.9,836 756.9,836 732.9,774.1 722,753.9 700,736.3 670,713.6Z"/>
<path fill="#0f008c" stroke="#0f008c" stroke-width=".6" d="M670,705L700,727.9 732.8,754 743.6,771 773.6,836 765.9,836 733,759 731.9,757.5 700,732.1 670,709.2Z"/>
<path fill="#0a008d" stroke="#0a008d" stroke-width=".6" d="M670,701L670,700.5 700,723.8 742.9,757.6 744.9,761 782.4,836 773.6,836 743.6,771 732.8,754 701,728.7 670,704.9Z"/>
<path fill="#06008e" stroke="#06008e" stroke-width=".6" d="M670,697L670,696.2 742.9,753.3 753.9,768.5 790.2,836 782.4,836 744.9,761 742.9,757.6 670,700.5Z"/>
<path fill="#02008f" stroke="#02008f" stroke-width=".6" d="M670,692L753.9,758 799.1,836 790.2,836 753.9,768.5 742.9,753.3 670,696.2Z"/>
<path fill="#000096" stroke="#000096" stroke-width=".6" d="M670,689L670,688.4 707,716.8 753.9,753.9 781.9,782.1 811.4,836 799.1,836 753.9,758 670,691.8Z"/>
<path fill="#0000a1" stroke="#0000a1" stroke-width=".6" d="M670,686L670,685 707,712.7 753.9,749.9 772.9,755.7 778.8,757 779.9,757.7 781.9,758 782.9,759 783.1,760 783.9,761 822.5,836 811.4,836 782.9,783.5 781.8,782 754,754 707,716.8 670,688.4Z"/>
<path fill="#0000ac" stroke="#0000ac" stroke-width=".6" d="M670,682L670,681.6 707,708.6 753.9,745.9 781.9,753.8 782.9,754.5 810.9,785.7 834.9,836 822.5,836 783.9,761 783.1,760 782.9,759 781.9,758 779.9,757.7 778.8,757 772.9,755.7 753.9,749.9 707,712.7 670,685Z"/>
<path fill="#0000b7" stroke="#0000b7" stroke-width=".6" d="M670,679L670,678.2 707,704.5 753.9,741.9 793,753 797.9,754.7 803.5,756 804.9,756.7 807,757 808.9,757.8 810.9,758 812.3,762 814.9,767 845.8,836 834.9,836 810.9,785.7 782.9,754.5 781.9,753.8 753.9,745.9 707,708.6 670,681.6Z"/>
<path fill="#0000c2" stroke="#0000c2" stroke-width=".6" d="M670,675L707,700.4 753.9,737.9 810.9,754 838.8,789.2 858.4,836 845.8,836 814.9,767 812.3,762 810.9,758 808.9,757.8 807,757 804.9,756.7 803.5,756 797.9,754.7 793,753 753.9,741.9 707,704.5 670,678.2Z"/>
<path fill="#0000cd" stroke="#0000cd" stroke-width=".6" d="M670,672L670,671.5 707,696.3 753.9,733.9 817.9,752 822.9,753.7 824.9,754 829.9,755.7 835.5,757 836.9,757.8 838.8,758 840.8,762 841.3,764 869.3,836 858.4,836 838.8,789.2 810.9,754 753.9,737.9 707,700.4 670,674.9Z"/>
<path fill="#0000d8" stroke="#0000d8" stroke-width=".6" d="M670,669L670,668.1 707,692.1 753.9,729.9 838.8,753.9 840,755 867.8,795.3 882,836 869.3,836 841.3,764 840.8,762 838.8,758 836.9,757.8 835.5,757 829.9,755.7 824.9,754 822.9,753.7 817.9,752 753.9,733.9 707,696.3 670,671.5Z"/>
<path fill="#0000e3" stroke="#0000e3" stroke-width=".6" d="M670,665L670,664.7 707,688.1 753.9,725.9 837.8,749.4 854.8,754.7 860.3,756 861.8,756.7 863.9,757 864.8,757.6 867,758 867.8,758.6 892.6,836 882,836 867.8,795.3 840,755 838.8,753.9 753.9,729.9 707,692.1 670,668.1Z"/>
<path fill="#0000ee" stroke="#0000ee" stroke-width=".6" d="M670,662L670,661.3 696,677.2 697,679.1 707,685.7 718,694.2 719,693.6 753.9,721.9 809.9,735.1 835.9,742 867.8,752.7 895.8,802.1 905.6,836 892.6,836 867.8,758.6 867,758 837.8,749.4 753.9,725.9 707,688.1 670,664.7Z"/>
<path fill="#0000f9" stroke="#0000f9" stroke-width=".6" d="M670,658L687,668 691,670.8 692,671 694,672.7 695,672.9 696.1,674 697,676.6 718,691.5 719,689.9 721,691.7 722,692 725,694.8 727,696 753.9,717.9 806.9,728 835.9,735 869.9,748 880.8,752.6 882.8,753 883.8,753.8 892.9,757 893.8,757.8 895.8,758 896,760 896.8,761 897,763 897.8,764.8 916.1,836 905.6,836 895.8,802.1 867.8,752.7 835.9,742 809.9,735.1 753.9,721.9 719,693.6 718,694.2 707,685.7 697,679.1 696,677.2 670,661.3Z"/>
<path fill="#0010f3" stroke="#0010f3" stroke-width=".6" d="M670,655L690,669 691,669.4 693,671 694,671.3 696,673.1 697,671 707,676.9 718,685.6 718.6,688 718.3,689 721,690.3 724,693 725,693.3 753.9,714.1 836.9,731.1 889.8,751.2 897.8,757.8 906.8,761.6 908.8,762 909.8,762.8 911.8,763 912.8,763.9 916.8,765 917.8,765.8 919.8,766 920.8,766.8 988.7,766.8 999.7,766.5 1004.7,766 1004.7,836 916.1,836 897.8,764.8 897,763 896.8,761 896,760 895.8,758 893.8,757.8 892.9,757 883.8,753.8 882.8,753 880.8,752.6 869.9,748 835.9,735 806.9,728 753.9,717.9 727,696 725,694.8 722,692 721,691.7 719,689.9 718,691.5 697,676.6 696.1,674 695,672.9 694,672.7 692,671 691,670.8 687,668 670,657.9Z"/>
<path fill="#0125e0" stroke="#0125e0" stroke-width=".6" d="M670,653L670,652.1 696,670.1 697,668.1 707,674.1 718,682.5 719,686 753.9,710.3 836.9,726.9 889.8,746.8 896.8,752.5 920.8,761.3 1004.7,761.3 1004.7,766 999.7,766.5 988.7,766.8 920.8,766.8 919.8,766 917.8,765.8 916.8,765 912.8,763.9 911.8,763 909.8,762.8 908.8,762 906.8,761.6 897.8,757.8 889.8,751.2 836.9,731.1 753.9,714.1 725,693.3 724,693 721,690.3 718.3,689 718.6,688 718,685.6 708,677.7 697,671 696,673.1 694,671.3 693,671 691,669.4 690,669 670,654.9Z"/>
<path fill="#032fd0" stroke="#032fd0" stroke-width=".6" d="M670,650L670,649.2 696,666.9 697,665.3 707,671.2 718,679.4 719,682.6 753.9,706.4 836.9,722.8 889.8,742.4 896.8,747.7 920.8,756.4 1004.7,756.7 1004.7,761.3 920.8,761.3 896.8,752.5 889.8,746.8 836.9,726.9 753.9,710.3 719,686 718,682.5 708,674.8 697,668.1 696,670.1 670,652.1Z"/>
<path fill="#0539c0" stroke="#0539c0" stroke-width=".6" d="M670,647L670,646.3 696,663.7 697,662.4 707,668.3 718,676.3 719,679.1 753.9,702.6 836.9,718.6 889.8,738.1 896.8,742.9 920.8,751.5 1004.7,752 1004.7,756.7 920.8,756.4 896.8,747.7 889.8,742.4 836.9,722.8 753.9,706.4 719,682.6 718,679.4 707,671.2 697,665.3 696,666.9 670,649.2Z"/>
<path fill="#0743b0" stroke="#0743b0" stroke-width=".6" d="M670,644L670,643.4 696,660.5 697,659.5 707,665.5 718,673.2 719,675.7 753.9,698.7 836.9,714.4 889.8,733.7 896.8,738.1 920.8,746.6 1004.7,747.3 1004.7,752 920.8,751.5 896.8,742.9 889.8,738.1 836.9,718.6 753.9,702.6 719,679.1 718,676.3 707,668.3 697,662.4 696,663.7 670,646.3Z"/>
<path fill="#084ea1" stroke="#084ea1" stroke-width=".6" d="M670,641L670,640.5 696,657.3 697,656.6 707,662.6 718,670.1 719,672.2 753.9,694.9 836.9,710.3 889.8,729.3 896.8,733.3 920.8,741.8 1004.7,742.7 1004.7,747.3 920.8,746.6 896.8,738.1 889.8,733.7 836.9,714.4 753.9,698.7 719,675.7 718,673.2 707,665.5 697,659.5 696,660.5 670,643.4Z"/>
<path fill="#095992" stroke="#095992" stroke-width=".6" d="M670,638L670,637.6 696,654.1 697,653.8 707,659.8 718,667.1 719,668.8 753.9,691 836.9,706.1 889.8,724.9 897.8,728.9 920.8,736.9 1004.7,738 1004.7,742.7 920.8,741.8 896.8,733.3 889.8,729.3 836.9,710.3 753.9,694.9 719,672.2 718,670.1 707,662.6 697,656.6 696,657.3 670,640.5Z"/>
<path fill="#096484" stroke="#096484" stroke-width=".6" d="M670,635L670,634.7 696,650.9 697,650.9 707,656.9 718,664 719,665.3 753.9,687.2 836.9,701.9 889.8,720.5 897.8,724.1 920.8,732 1004.7,733.3 1004.7,738 920.8,736.9 897.8,728.9 889.8,724.9 836.9,706.1 753.9,691 719,668.8 718,667.1 707,659.8 697,653.8 696,654.1 670,637.6Z"/>
<path fill="#096f76" stroke="#096f76" stroke-width=".6" d="M670,632L707,654 718,660.9 719,661.8 753.9,683.3 836.9,697.8 920.8,727.1 1004.7,728.7 1004.7,733.3 920.8,732 897.8,724.1 889.8,720.5 836.9,701.9 753.9,687.2 719,665.3 718,664 707,656.9 697,650.9 696,650.9 670,634.7Z"/>
<path fill="#0a7a67" stroke="#0a7a67" stroke-width=".6" d="M670,629L753.9,679.5 836.9,693.6 920.8,722.2 1004.7,724 1004.7,728.7 920.8,727.1 836.9,697.8 753.9,683.3 719,661.8 718,660.9 707,654 697,648 696,647.7 670,631.8Z"/>
<path fill="#0d845c" stroke="#0d845c" stroke-width=".6" d="M670,626L753.9,676.2 836.9,689.8 920.8,717.6 1004.7,719.6 1004.7,724 920.8,722.2 836.9,693.6 753.9,679.5 670,628.9Z"/>
<path fill="#128c54" stroke="#128c54" stroke-width=".6" d="M670,623L753.9,673 836.9,686.1 920.8,713 1004.7,715.2 1004.7,719.6 920.8,717.6 836.9,689.8 753.9,676.2 670,625.9Z"/>
<path fill="#18944c" stroke="#18944c" stroke-width=".6" d="M670,620L753.9,669.7 836.9,682.3 920.8,708.4 1004.7,710.7 1004.7,715.2 920.8,713 836.9,686.1 753.9,673 670,622.9Z"/>
<path fill="#1d9c44" stroke="#1d9c44" stroke-width=".6" d="M670,617L753.9,666.5 836.9,678.6 920.8,703.8 1004.7,706.3 1004.7,710.7 920.8,708.4 836.9,682.3 753.9,669.7 670,619.8Z"/>
<path fill="#22a43c" stroke="#22a43c" stroke-width=".6" d="M670,614L753.9,663.3 836.9,674.8 920.8,699.2 1004.7,701.9 1004.7,706.3 920.8,703.8 836.9,678.6 753.9,666.5 670,616.8Z"/>
<path fill="#28ac34" stroke="#28ac34" stroke-width=".6" d="M670,611L753.9,660 836.9,671.1 920.8,694.6 1004.7,697.5 1004.7,701.9 920.8,699.2 836.9,674.8 753.9,663.3 670,613.8Z"/>
<path fill="#2db42c" stroke="#2db42c" stroke-width=".6" d="M670,608L753.9,656.8 836.9,667.3 920.8,690 1004.7,693.1 1004.7,697.5 920.8,694.6 836.9,671.1 753.9,660 670,610.8Z"/>
<path fill="#33bc24" stroke="#33bc24" stroke-width=".6" d="M670,605L753.9,653.5 836.9,663.6 920.8,685.4 1004.7,688.6 1004.7,693.1 920.8,690 836.9,667.3 753.9,656.8 670,607.8Z"/>
<path fill="#38c41c" stroke="#38c41c" stroke-width=".6" d="M670,602L753.9,650.3 836.9,659.8 920.8,680.8 1004.7,684.2 1004.7,688.6 920.8,685.4 836.9,663.6 753.9,653.5 670,604.7Z"/>
<path fill="#3dcc14" stroke="#3dcc14" stroke-width=".6" d="M670,599L670,598.7 753.9,647.1 836.9,656.1 920.8,676.3 1004.7,679.8 1004.7,684.2 920.8,680.8 836.9,659.8 753.9,650.3 670,601.7Z"/>
<path fill="#4ad20f" stroke="#4ad20f" stroke-width=".6" d="M670,596L670,595 753.9,643.9 836.9,652.5 920.8,672.4 1004.7,675.6 1004.7,679.8 920.8,676.3 836.9,656.1 753.9,647.1 670,598.7Z"/>
<path fill="#5dd70e" stroke="#5dd70e" stroke-width=".6" d="M670,592L670,591.3 753.9,640.7 836.9,649 920.8,668.7 1004.7,671.4 1004.7,675.6 920.8,672.4 836.9,652.5 753.9,643.9 670,595Z"/>
<path fill="#70dc0c" stroke="#70dc0c" stroke-width=".6" d="M670,588L670,587.7 753.9,637.5 836.9,645.5 920.8,664.9 1004.7,667.3 1004.7,671.4 920.8,668.7 836.9,649 753.9,640.7 670,591.3Z"/>
<path fill="#83e00a" stroke="#83e00a" stroke-width=".6" d="M670,584L753.9,634.3 836.9,642 920.8,661.1 1004.7,663.1 1004.7,667.3 920.8,664.9 836.9,645.5 753.9,637.5 670,587.7Z"/>
<path fill="#96e509" stroke="#96e509" stroke-width=".6" d="M670,581L670,580.3 753.9,631.1 836.9,638.5 920.8,657.4 1004.7,658.9 1004.7,663.1 920.8,661.1 836.9,642 753.9,634.3 670,584Z"/>
<path fill="#a9ea07" stroke="#a9ea07" stroke-width=".6" d="M670,577L670,576.6 753.9,627.9 836.9,634.9 920.8,653.6 1004.7,654.7 1004.7,658.9 920.8,657.4 836.9,638.5 753.9,631.1 670,580.3Z"/>
<path fill="#bcef06" stroke="#bcef06" stroke-width=".6" d="M670,573L753.9,624.7 836.9,631.4 920.8,649.8 1004.7,650.5 1004.7,654.7 920.8,653.6 836.9,634.9 753.9,627.9 670,576.6Z"/>
<path fill="#cff304" stroke="#cff304" stroke-width=".6" d="M670,570L670,569.2 753.9,621.5 836.9,627.9 920.8,646 1004.7,646.4 1004.7,650.5 920.8,649.8 836.9,631.4 753.9,624.7 670,572.9Z"/>
<path fill="#e2f802" stroke="#e2f802" stroke-width=".6" d="M670,566L670,565.6 753.9,618.3 836.9,624.4 920.8,642.3 1004.7,642.2 1004.7,646.4 920.8,646 836.9,627.9 753.9,621.5 670,569.2Z"/>
<path fill="#f5fd01" stroke="#f5fd01" stroke-width=".6" d="M670,562L753.9,615.1 836.9,620.8 920.8,638.5 1004.7,638 1004.7,642.2 920.8,642.3 836.9,624.4 753.9,618.3 670,565.6Z"/>
<path fill="#fffa00" stroke="#fffa00" stroke-width=".6" d="M670,559L670,558.1 753.9,611.5 836.9,617.1 920.8,634.7 996.7,633.7 1004.7,633.3 1004.7,638 920.8,638.5 836.9,620.8 753.9,615.1 670,561.9Z"/>
<path fill="#fff000" stroke="#fff000" stroke-width=".6" d="M670,555L670,554.3 753.9,607.8 836.9,613.3 920.8,631 996.7,629.3 1004.7,628.6 1004.7,633.3 996.7,633.7 920.8,634.7 836.9,617.1 753.9,611.5 670,558.1Z"/>
<path fill="#ffe500" stroke="#ffe500" stroke-width=".6" d="M670,551L670,550.6 753.9,604.1 836.9,609.5 920.8,627.2 996.7,625 1004.7,623.9 1004.7,628.6 996.7,629.3 920.8,631 836.9,613.3 753.9,607.8 670,554.3Z"/>
<path fill="#ffdb00" stroke="#ffdb00" stroke-width=".6" d="M670,547L753.9,600.4 836.9,605.7 920.8,623.4 996.7,620.6 1004.7,619.2 1004.7,623.9 996.7,625 920.8,627.2 836.9,609.5 753.9,604.1 670,550.6Z"/>
<path fill="#ffd100" stroke="#ffd100" stroke-width=".6" d="M670,544L670,543 753.9,596.7 836.9,601.9 920.8,619.6 996.7,616.3 1004.7,614.5 1004.7,619.2 996.7,620.6 920.8,623.4 836.9,605.7 753.9,600.4 670,546.8Z"/>
<path fill="#ffc600" stroke="#ffc600" stroke-width=".6" d="M670,540L670,539.3 753.9,593 836.9,598.1 920.8,615.9 996.7,611.9 1004.7,609.8 1004.7,614.5 996.7,616.3 920.8,619.6 836.9,601.9 753.9,596.7 670,543Z"/>
<path fill="#ffbc00" stroke="#ffbc00" stroke-width=".6" d="M670,536L670,535.5 753.9,589.3 836.9,594.3 920.8,612.1 996.7,607.6 1004.7,605.1 1004.7,609.8 996.7,611.9 920.8,615.9 836.9,598.1 753.9,593 670,539.3Z"/>
<path fill="#ffb200" stroke="#ffb200" stroke-width=".6" d="M670,532L753.9,585.6 836.9,590.5 920.8,608.3 996.7,603.2 1004.7,600.4 1004.7,605.1 996.7,607.6 920.8,612.1 836.9,594.3 753.9,589.3 670,535.5Z"/>
<path fill="#ffa700" stroke="#ffa700" stroke-width=".6" d="M670,528L753.9,581.9 836.9,586.7 920.8,604.5 996.7,598.9 1004.7,595.7 1004.7,600.4 996.7,603.2 920.8,608.3 836.9,590.5 753.9,585.6 670,531.7Z"/>
<path fill="#ff9d00" stroke="#ff9d00" stroke-width=".6" d="M670,525L670,524.2 753.9,578.2 836.9,582.8 920.8,600.7 996.7,594.4 1004.7,591 1004.7,595.7 996.7,598.9 920.8,604.5 836.9,586.7 753.9,581.9 670,527.9Z"/>
<path fill="#ff9400" stroke="#ff9400" stroke-width=".6" d="M670,524L676,524 753.9,574.4 836.9,578.8 920.8,596.4 948.8,593.5 996.7,587.1 1004.7,583.5 1004.7,591 996.7,594.4 920.8,600.7 836.9,582.8 753.9,578.2Z"/>
<path fill="#fe8b00" stroke="#fe8b00" stroke-width=".6" d="M676,524L682.3,524 753.9,570.5 836.9,574.8 920.8,592 948.8,588.6 996.7,579.7 1004.7,576 1004.7,583.5 996.7,587.1 948.8,593.5 920.8,596.4 836.9,578.8 753.9,574.4Z"/>
<path fill="#fd8200" stroke="#fd8200" stroke-width=".6" d="M682.3,524L688.5,524 753.9,566.7 836.9,570.7 920.8,587.5 948.8,583.7 996.7,572.4 1004.7,568.5 1004.7,576 996.7,579.7 948.8,588.6 920.8,592 836.9,574.8 753.9,570.5Z"/>
<path fill="#fd7900" stroke="#fd7900" stroke-width=".6" d="M688.5,524L694.7,524 753.9,562.8 836.9,566.7 920.8,583.1 948.8,578.8 996.7,565 1004.7,561 1004.7,568.5 996.7,572.4 948.8,583.7 920.8,587.5 836.9,570.7 753.9,566.7Z"/>
<path fill="#fc7000" stroke="#fc7000" stroke-width=".6" d="M694.7,524L700.8,524 753.9,559 836.9,562.6 920.8,578.7 948.8,573.9 996.7,557.6 1004.7,553.5 1004.7,561 996.7,565 948.8,578.8 919.8,583.1 836.9,566.7 753.9,562.8Z"/>
<path fill="#fb6800" stroke="#fb6800" stroke-width=".6" d="M700.8,524L706.8,524 753.9,555.1 836.9,558.6 919.8,574.3 948.8,568.9 996.7,550.2 1004.7,546 1004.7,553.5 996.7,557.6 948.8,573.9 919.8,578.7 836.9,562.6 753.9,559Z"/>
<path fill="#fa5f00" stroke="#fa5f00" stroke-width=".6" d="M706.8,524L712.9,524 753.9,551.2 836.9,554.6 919.8,569.9 948.8,564 996.7,542.9 1004.7,538.5 1004.7,546 996.7,550.2 948.8,568.9 919.8,574.3 836.9,558.6 753.9,555.1Z"/>
<path fill="#fa5600" stroke="#fa5600" stroke-width=".6" d="M712.9,524L718.8,524 753.9,547.4 836.9,550.5 919.8,565.5 948.8,559.1 996.7,535.5 1004.7,531 1004.7,538.5 996.7,542.9 948.8,564 919.8,569.9 836.9,554.6 753.9,551.2Z"/>
<path fill="#f94d00" stroke="#f94d00" stroke-width=".6" d="M718.8,524L724.7,524 753.9,543.5 836.9,546.5 919.8,561.1 920.8,561.1 948.8,554.2 1003.8,524 1004.7,524 1004.7,531 996.7,535.5 948.8,559.1 920.8,565.5 836.9,550.5 753.9,547.4Z"/>
<path fill="#f84400" stroke="#f84400" stroke-width=".6" d="M724.7,524L730.6,524 753.9,539.6 836.9,542.4 920.8,556.7 948.8,549.3 991.4,524 1003.8,524 948.8,554.2 920.8,561.1 836.9,546.5 753.9,543.5Z"/>
<path fill="#f73b00" stroke="#f73b00" stroke-width=".6" d="M730.6,524L736.6,524 753.9,535.6 836.9,538.4 920.8,552.7 947.8,545.7 984.5,524 991.4,524 948.8,549.3 920.8,556.7 836.9,542.4 753.9,539.6Z"/>
<path fill="#f63200" stroke="#f63200" stroke-width=".6" d="M736.6,524L742.5,524 753.9,531.6 836.9,534.4 920.8,548.7 947.8,541.7 977.8,524 984.5,524 948.8,545.3 920.8,552.7 836.9,538.4 753.9,535.6Z"/>
<path fill="#f52900" stroke="#f52900" stroke-width=".6" d="M742.5,524L748.5,524 753.9,527.6 754.9,527.7 836.9,530.4 920.8,544.7 947.8,537.7 971.1,524 977.8,524 947.8,541.7 920.8,548.7 836.9,534.4 753.9,531.6Z"/>
<path fill="#f31f00" stroke="#f31f00" stroke-width=".6" d="M748.5,524L763.2,524 836.9,526.4 920.8,540.7 947.8,533.7 964.3,524 971.1,524 947.8,537.7 920.8,544.7 836.9,530.4 754.9,527.7 753.9,527.6Z"/>
<path fill="#f21600" stroke="#f21600" stroke-width=".6" d="M763.2,524L845.9,524 920.8,536.7 947.8,529.7 957.6,524 964.3,524 947.8,533.7 920.8,540.7 836.9,526.4Z"/>
<path fill="#f10d00" stroke="#f10d00" stroke-width=".6" d="M845.9,524L869.2,524 920.8,532.7 947.8,525.7 950.9,524 957.6,524 947.8,529.7 920.8,536.7Z"/>
<path fill="#f00800" stroke="#f00800" stroke-width=".6" d="M869.2,524L892.5,524 920.8,528.7 938.9,524 950.9,524 947.8,525.7 920.8,532.7Z"/>
<path fill="#f00800" stroke="#f00800" stroke-width=".6" d="M892.5,524L915.7,524 920.8,524.7 923.5,524 938.9,524 920.8,528.7Z"/>
<path fill="#f00800" stroke="#f00800" stroke-width=".6" d="M915.7,524L923.5,524 920.8,524.7Z"/>
<g fill="none" stroke="#000" stroke-opacity=".75" stroke-width="1">
<path d="M670.5,735.7L700.1,757.2 702.8,769.8 716.3,835.8"/>
<path d="M670.5,692.2L754,758 798.9,835.8"/>
<path d="M670.5,658.2L707.3,680 754,718 809.6,728.5 836.6,735.2 896.2,758.1 915.9,835.8"/>
<path d="M670.5,629.2L754,679.5 836.6,693.5 920.4,722.2 1004.8,724"/>
<path d="M670.5,599L754,647.1 836.6,656 920.4,676.2 1004.8,679.8"/>
<path d="M670.5,562.2L754,615.2 836.6,620.8 920.4,638.5 1004.8,638"/>
<path d="M670.5,524.5L754,578.3 836.6,582.8 920.4,600.8 996.7,594.5 1004.8,591"/>
<path d="M730.6,524L754,539.7 836.6,542.4 920.4,556.8 948.2,549.6 990.4,524.5"/>
</g>
</g>
<path d="M670.2,524V836M1004.5,524V836" fill="none" stroke="#000" stroke-opacity=".6" stroke-width=".9"/>
<path d="M670,836v3.6M670,524h-3.8M753.67,836v3.6M670,602h-3.8M837.35,836v3.6M670,680h-3.8M921.03,836v3.6M670,758h-3.8M1004.7,836v3.6M670,836h-3.8" stroke="#222" stroke-width=".9" fill="none"/>
<text x="632.13" y="494.2" font-size="16.2" textLength="23.58" lengthAdjust="spacingAndGlyphs">(d)</text>
<text x="626.58" y="530.4" font-size="18.64" textLength="18.98" lengthAdjust="spacingAndGlyphs">10</text>
<text x="645.42" y="524.7" font-size="11.36" textLength="12.2" lengthAdjust="spacingAndGlyphs">18</text>
<text x="626.58" y="608.4" font-size="18.64" textLength="18.98" lengthAdjust="spacingAndGlyphs">10</text>
<text x="645.43" y="602.7" font-size="11.36" textLength="12.07" lengthAdjust="spacingAndGlyphs">17</text>
<text x="626.58" y="686.4" font-size="18.64" textLength="18.98" lengthAdjust="spacingAndGlyphs">10</text>
<text x="645.43" y="680.7" font-size="11.36" textLength="12.13" lengthAdjust="spacingAndGlyphs">16</text>
<text x="626.58" y="764.4" font-size="18.64" textLength="18.98" lengthAdjust="spacingAndGlyphs">10</text>
<text x="645.42" y="758.7" font-size="11.36" textLength="12.2" lengthAdjust="spacingAndGlyphs">15</text>
<text x="626.58" y="842.4" font-size="18.64" textLength="18.98" lengthAdjust="spacingAndGlyphs">10</text>
<text x="645.44" y="836.7" font-size="11.36" textLength="12" lengthAdjust="spacingAndGlyphs">14</text>
<text x="658.24" y="863.5" font-size="16.4" textLength="23.37" lengthAdjust="spacingAndGlyphs">1.0</text>
<text x="742.01" y="863.5" font-size="16.4" textLength="23.37" lengthAdjust="spacingAndGlyphs">1.1</text>
<text x="825.64" y="863.5" font-size="16.4" textLength="23.37" lengthAdjust="spacingAndGlyphs">1.2</text>
<text x="909.22" y="863.5" font-size="16.4" textLength="23.37" lengthAdjust="spacingAndGlyphs">1.3</text>
<text x="992.75" y="863.5" font-size="16.4" textLength="23.37" lengthAdjust="spacingAndGlyphs">1.4</text>
<text x="782.82" y="891" font-size="17.2" textLength="109.67" lengthAdjust="spacingAndGlyphs">Bandgap (eV)</text>
<g transform="translate(609.3 792.4) rotate(-90)">
<text x="-0.87" y="0" font-size="18.3" textLength="209.41" lengthAdjust="spacingAndGlyphs">Carrier concentration (1/cm</text>
<text x="209.07" y="-10.9" font-size="18.9" textLength="8.99" lengthAdjust="spacingAndGlyphs">3</text>
<text x="218.05" y="0" font-size="18.3" textLength="5.8" lengthAdjust="spacingAndGlyphs">)</text>
</g>
<rect x="100" y="249.6" width="24.2" height="16.4" fill="#fff"/><text stroke="#000" stroke-width="0.35" x="99.9" y="263.41" font-size="17" textLength="24.39" lengthAdjust="spacingAndGlyphs">0.70</text>
<rect x="137.2" y="198.4" width="24.2" height="16.4" fill="#fff"/><text stroke="#000" stroke-width="0.35" x="137.07" y="212.21" font-size="17" textLength="24.39" lengthAdjust="spacingAndGlyphs">0.75</text>
<rect x="173.9" y="188.3" width="24.2" height="16.4" fill="#fff"/><text stroke="#000" stroke-width="0.35" x="173.8" y="202.11" font-size="17" textLength="24.39" lengthAdjust="spacingAndGlyphs">0.80</text>
<rect x="211.6" y="180.8" width="24.2" height="16.4" fill="#fff"/><text stroke="#000" stroke-width="0.35" x="211.47" y="194.61" font-size="17" textLength="24.39" lengthAdjust="spacingAndGlyphs">0.85</text>
<rect x="248.9" y="173.2" width="24.2" height="16.4" fill="#fff"/><text stroke="#000" stroke-width="0.35" x="248.8" y="187.01" font-size="17" textLength="24.39" lengthAdjust="spacingAndGlyphs">0.90</text>
<rect x="281.9" y="155.7" width="24.2" height="16.4" fill="#fff"/><text stroke="#000" stroke-width="0.35" x="281.77" y="169.51" font-size="17" textLength="24.39" lengthAdjust="spacingAndGlyphs">0.95</text>
<rect x="336.1" y="193.2" width="24.2" height="16.4" fill="#fff"/><text stroke="#000" stroke-width="0.35" x="335.72" y="207.01" font-size="17" textLength="24.39" lengthAdjust="spacingAndGlyphs">1.00</text>
<rect x="376.7" y="193.2" width="24.2" height="16.4" fill="#fff"/><text stroke="#000" stroke-width="0.35" x="376.29" y="207.01" font-size="17" textLength="24.39" lengthAdjust="spacingAndGlyphs">1.05</text>
<rect x="654.9" y="201.3" width="15.6" height="15.6" fill="#fff"/><text stroke="#000" stroke-width="0.25" x="655.31" y="214.48" font-size="16.3" textLength="15" lengthAdjust="spacingAndGlyphs">46</text>
<rect x="695.7" y="201.3" width="15.6" height="15.6" fill="#fff"/><text stroke="#000" stroke-width="0.25" x="696.04" y="214.48" font-size="16.3" textLength="15" lengthAdjust="spacingAndGlyphs">44</text>
<rect x="735.3" y="201.3" width="15.6" height="15.6" fill="#fff"/><text stroke="#000" stroke-width="0.25" x="735.83" y="214.48" font-size="16.3" textLength="15" lengthAdjust="spacingAndGlyphs">42</text>
<rect x="770.9" y="201.3" width="15.6" height="15.6" fill="#fff"/><text stroke="#000" stroke-width="0.25" x="771.39" y="214.48" font-size="16.3" textLength="15" lengthAdjust="spacingAndGlyphs">40</text>
<rect x="806.5" y="201.3" width="15.6" height="15.6" fill="#fff"/><text stroke="#000" stroke-width="0.25" x="806.76" y="214.48" font-size="16.3" textLength="15" lengthAdjust="spacingAndGlyphs">38</text>
<rect x="854.9" y="201.3" width="15.6" height="15.6" fill="#fff"/><text stroke="#000" stroke-width="0.25" x="855.13" y="214.48" font-size="16.3" textLength="15" lengthAdjust="spacingAndGlyphs">36</text>
<rect x="905.3" y="201.3" width="15.6" height="15.6" fill="#fff"/><text stroke="#000" stroke-width="0.25" x="905.45" y="214.48" font-size="16.3" textLength="15" lengthAdjust="spacingAndGlyphs">34</text>
<rect x="957.8" y="200.6" width="15.6" height="15.6" fill="#fff"/><text stroke="#000" stroke-width="0.25" x="958.14" y="213.78" font-size="16.3" textLength="15" lengthAdjust="spacingAndGlyphs">32</text>
<rect x="975.9" y="50.3" width="15.6" height="15.6" fill="#fff"/><text stroke="#000" stroke-width="0.25" x="976.2" y="63.48" font-size="16.3" textLength="15" lengthAdjust="spacingAndGlyphs">30</text>
<rect x="338.9" y="551.25" width="14" height="15.1" fill="#fff"/><text stroke="#000" stroke-width="0.35" x="339.43" y="563.88" font-size="15.4" textLength="12.94" lengthAdjust="spacingAndGlyphs">88</text>
<rect x="248.5" y="616.55" width="14" height="15.1" fill="#fff"/><text stroke="#000" stroke-width="0.35" x="249" y="629.18" font-size="15.4" textLength="12.94" lengthAdjust="spacingAndGlyphs">86</text>
<rect x="237.8" y="662.85" width="14" height="15.1" fill="#fff"/><text stroke="#000" stroke-width="0.35" x="238.23" y="675.48" font-size="15.4" textLength="12.94" lengthAdjust="spacingAndGlyphs">84</text>
<rect x="238" y="695.65" width="14" height="15.1" fill="#fff"/><text stroke="#000" stroke-width="0.35" x="238.6" y="708.28" font-size="15.4" textLength="12.94" lengthAdjust="spacingAndGlyphs">82</text>
<rect x="242.2" y="724.95" width="14" height="15.1" fill="#fff"/><text stroke="#000" stroke-width="0.35" x="242.76" y="737.58" font-size="15.4" textLength="12.94" lengthAdjust="spacingAndGlyphs">80</text>
<rect x="196.5" y="739.55" width="14" height="15.1" fill="#fff"/><text stroke="#000" stroke-width="0.35" x="196.9" y="752.18" font-size="15.4" textLength="12.94" lengthAdjust="spacingAndGlyphs">78</text>
<rect x="144.3" y="765.35" width="14" height="15.1" fill="#fff"/><text stroke="#000" stroke-width="0.35" x="144.67" y="777.98" font-size="15.4" textLength="12.94" lengthAdjust="spacingAndGlyphs">76</text>
<rect x="854.7" y="538.9" width="15.8" height="16.2" fill="#fff"/><text stroke="#000" stroke-width="0.25" x="855.77" y="551.95" font-size="15" textLength="13.8" lengthAdjust="spacingAndGlyphs">31</text>
<rect x="822.1" y="574.9" width="15.8" height="16.2" fill="#fff"/><text stroke="#000" stroke-width="0.25" x="823.1" y="587.95" font-size="15" textLength="13.8" lengthAdjust="spacingAndGlyphs">30</text>
<rect x="821.8" y="612.1" width="15.8" height="16.2" fill="#fff"/><text stroke="#000" stroke-width="0.25" x="822.77" y="625.15" font-size="15" textLength="13.8" lengthAdjust="spacingAndGlyphs">29</text>
<rect x="823.3" y="647.2" width="15.8" height="16.2" fill="#fff"/><text stroke="#000" stroke-width="0.25" x="824.27" y="660.25" font-size="15" textLength="13.8" lengthAdjust="spacingAndGlyphs">28</text>
<rect x="823.7" y="683.4" width="15.8" height="16.2" fill="#fff"/><text stroke="#000" stroke-width="0.25" x="824.6" y="696.45" font-size="15" textLength="13.8" lengthAdjust="spacingAndGlyphs">27</text>
<rect x="809.1" y="723.6" width="15.8" height="16.2" fill="#fff"/><text stroke="#000" stroke-width="0.25" x="810.03" y="736.65" font-size="15" textLength="13.8" lengthAdjust="spacingAndGlyphs">26</text>
<rect x="741" y="745.4" width="15.8" height="16.2" fill="#fff"/><text stroke="#000" stroke-width="0.25" x="741.97" y="758.45" font-size="15" textLength="13.8" lengthAdjust="spacingAndGlyphs">25</text>
<rect x="696.6" y="771.3" width="15.8" height="16.2" fill="#fff"/><text stroke="#000" stroke-width="0.25" x="697.46" y="784.35" font-size="15" textLength="13.8" lengthAdjust="spacingAndGlyphs">24</text>
<text x="418.85" y="190.1" font-size="16.2" textLength="10.94" lengthAdjust="spacingAndGlyphs">V</text>
<text x="430.03" y="196.4" font-size="16.5" textLength="15.87" lengthAdjust="spacingAndGlyphs">oc</text>
<text x="451.03" y="190.1" font-size="16.2" textLength="23.71" lengthAdjust="spacingAndGlyphs">(V)</text>
<rect x="405.3" y="218.7" width="99" height="127.6" fill="#fff" stroke="#444" stroke-width=".9"/>
<rect x="430.7" y="226.5" width="22.2" height="9.1" fill="#2a0a80"/>
<text x="459.02" y="234.6" font-size="9.6">0.70</text>
<rect x="430.7" y="241.3" width="22.2" height="9.1" fill="#000088"/>
<text x="459.02" y="249.4" font-size="9.6">0.75</text>
<rect x="430.7" y="256.1" width="22.2" height="9.1" fill="#0000ff"/>
<text x="459.02" y="264.2" font-size="9.6">0.80</text>
<rect x="430.7" y="270.9" width="22.2" height="9.1" fill="#0a6680"/>
<text x="459.02" y="279" font-size="9.6">0.85</text>
<rect x="430.7" y="285.7" width="22.2" height="9.1" fill="#30c810"/>
<text x="459.02" y="293.8" font-size="9.6">0.90</text>
<rect x="430.7" y="300.5" width="22.2" height="9.1" fill="#e8ff10"/>
<text x="459.02" y="308.6" font-size="9.6">0.95</text>
<rect x="430.7" y="315.3" width="22.2" height="9.1" fill="#ffb000"/>
<text x="458.63" y="323.4" font-size="9.6">1.00</text>
<rect x="430.7" y="330.1" width="22.2" height="9.1" fill="#ff6000"/>
<text x="458.63" y="338.2" font-size="9.6">1.05</text>
<text x="1004.23" y="145.7" font-size="18.2" textLength="9.65" lengthAdjust="spacingAndGlyphs">J</text>
<text x="1013.7" y="151.6" font-size="18.2" textLength="16.66" lengthAdjust="spacingAndGlyphs">sc</text>
<text x="1029.96" y="145.7" font-size="18.2" textLength="64.58" lengthAdjust="spacingAndGlyphs">(mA/cm</text>
<text x="1094.81" y="136.2" font-size="19.5" textLength="11.08" lengthAdjust="spacingAndGlyphs">2</text>
<text x="1104.67" y="145.7" font-size="18.2" textLength="7.05" lengthAdjust="spacingAndGlyphs">)</text>
<rect x="1002.9" y="165" width="60.5" height="112.7" fill="#fff" stroke="#444" stroke-width=".9"/>
<rect x="1010.3" y="172.9" width="25.5" height="9.6" fill="#10007a"/>
<text x="1041.91" y="181.6" font-size="10.6" textLength="12.19" lengthAdjust="spacingAndGlyphs">30</text>
<rect x="1010.3" y="185.29" width="25.5" height="9.6" fill="#0000c8"/>
<text x="1041.91" y="193.99" font-size="10.6" textLength="12.19" lengthAdjust="spacingAndGlyphs">32</text>
<rect x="1010.3" y="197.68" width="25.5" height="9.6" fill="#0838c8"/>
<text x="1041.91" y="206.38" font-size="10.6" textLength="12.19" lengthAdjust="spacingAndGlyphs">26</text>
<rect x="1010.3" y="210.07" width="25.5" height="9.6" fill="#08a828"/>
<text x="1041.91" y="218.77" font-size="10.6" textLength="12.19" lengthAdjust="spacingAndGlyphs">38</text>
<rect x="1010.3" y="222.46" width="25.5" height="9.6" fill="#a0e808"/>
<text x="1042.22" y="231.16" font-size="10.6" textLength="12.19" lengthAdjust="spacingAndGlyphs">40</text>
<rect x="1010.3" y="234.85" width="25.5" height="9.6" fill="#ffd808"/>
<text x="1042.22" y="243.55" font-size="10.6" textLength="12.19" lengthAdjust="spacingAndGlyphs">42</text>
<rect x="1010.3" y="247.24" width="25.5" height="9.6" fill="#ff8c08"/>
<text x="1042.22" y="255.94" font-size="10.6" textLength="12.19" lengthAdjust="spacingAndGlyphs">44</text>
<rect x="1010.3" y="259.63" width="25.5" height="9.6" fill="#f82808"/>
<text x="1042.22" y="268.33" font-size="10.6" textLength="12.19" lengthAdjust="spacingAndGlyphs">46</text>
<text x="444.26" y="668.1" font-size="16.5" textLength="19.48" lengthAdjust="spacingAndGlyphs">FF</text>
<rect x="412.9" y="690" width="65.7" height="115" fill="#fff" stroke="#bbb" stroke-width=".9"/>
<path d="M412.9,805V690H478.6" fill="none" stroke="#333" stroke-width=".9"/>
<rect x="418.4" y="699.2" width="29.9" height="8.4" fill="#18007a"/>
<text x="455.14" y="708.1" font-size="13.8">76</text>
<rect x="418.4" y="713.97" width="29.9" height="8.4" fill="#0000c8"/>
<text x="455.14" y="722.87" font-size="13.8">78</text>
<rect x="418.4" y="728.74" width="29.9" height="8.4" fill="#0840b0"/>
<text x="455.42" y="737.64" font-size="13.8">80</text>
<rect x="418.4" y="743.51" width="29.9" height="8.4" fill="#28c810"/>
<text x="455.42" y="752.41" font-size="13.8">82</text>
<rect x="418.4" y="758.28" width="29.9" height="8.4" fill="#ffff10"/>
<text x="455.42" y="767.18" font-size="13.8">84</text>
<rect x="418.4" y="773.05" width="29.9" height="8.4" fill="#ff9808"/>
<text x="455.42" y="781.95" font-size="13.8">86</text>
<rect x="418.4" y="787.82" width="29.9" height="8.4" fill="#f83008"/>
<text x="455.42" y="796.72" font-size="13.8">88</text>
<text x="1038.42" y="663.7" font-size="16.2" textLength="46.5" lengthAdjust="spacingAndGlyphs">η (%)</text>
<rect x="1018.3" y="694.3" width="59.2" height="107.6" fill="#fff" stroke="#444" stroke-width=".9"/>
<rect x="1025.4" y="702.1" width="25" height="8.9" fill="#28087a"/>
<text x="1056.65" y="710.4" font-size="10.6" textLength="11.13" lengthAdjust="spacingAndGlyphs">24</text>
<rect x="1025.4" y="713.97" width="25" height="8.9" fill="#000090"/>
<text x="1056.65" y="722.27" font-size="10.6" textLength="11.13" lengthAdjust="spacingAndGlyphs">26</text>
<rect x="1025.4" y="725.84" width="25" height="8.9" fill="#0000ff"/>
<text x="1056.65" y="734.14" font-size="10.6" textLength="11.13" lengthAdjust="spacingAndGlyphs">26</text>
<rect x="1025.4" y="737.71" width="25" height="8.9" fill="#50d010"/>
<text x="1056.65" y="746.01" font-size="10.6" textLength="11.13" lengthAdjust="spacingAndGlyphs">28</text>
<rect x="1025.4" y="749.58" width="25" height="8.9" fill="#ffff10"/>
<text x="1056.65" y="757.88" font-size="10.6" textLength="11.13" lengthAdjust="spacingAndGlyphs">29</text>
<rect x="1025.4" y="761.45" width="25" height="8.9" fill="#ffa008"/>
<text x="1056.65" y="769.75" font-size="10.6" textLength="11.13" lengthAdjust="spacingAndGlyphs">30</text>
<rect x="1025.4" y="773.32" width="25" height="8.9" fill="#0a8060"/>
<text x="1056.65" y="781.62" font-size="10.6" textLength="11.13" lengthAdjust="spacingAndGlyphs">27</text>
<rect x="1025.4" y="785.19" width="25" height="8.9" fill="#f84808"/>
<text x="1056.65" y="793.49" font-size="10.6" textLength="11.13" lengthAdjust="spacingAndGlyphs">31</text>
</svg>
</body></html>
